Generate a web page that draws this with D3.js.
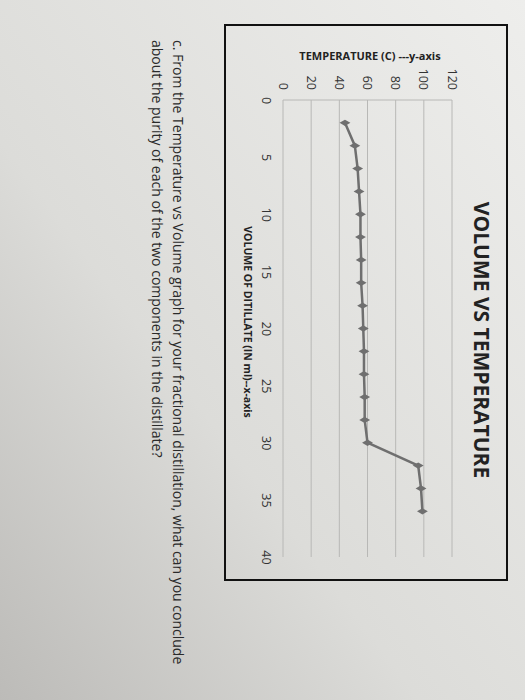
<!DOCTYPE html>
<html><head><meta charset="utf-8">
<script src="https://d3js.org/d3.v7.min.js"></script>
<style>body{margin:0;}svg{display:block;}</style>
</head><body>
<script>
const volumes = [2,4,6,8,10,12,14,16,18,20,22,24,26,28,30,32,34,36];
const temps = [44,51,53,54,55,55,55.5,55.5,56.5,57,57.5,57.5,58,58,60,96,98,99];
const tempTicks = [0,20,40,60,80,100,120];
const volTicks = [0,5,10,15,20,25,30,35,40];
const title = "VOLUME VS TEMPERATURE";
const yTitle = "TEMPERATURE (C) ---y-axis";
const xTitle = "VOLUME  OF DITILLATE (IN ml)--x-axis";
const question = ["c. From the Temperature vs Volume graph for your fractional distillation, what can you conclude",
                  "about the purity of each of the two components in the distillate?"];

const svg = d3.select("body").append("svg").attr("width",525).attr("height",700);
const defs = svg.append("defs");
const g1 = defs.append("linearGradient").attr("id","bg").attr("x1","1").attr("y1","0").attr("x2","0").attr("y2","1");
g1.append("stop").attr("offset","0").attr("stop-color","#eeeeec");
g1.append("stop").attr("offset","0.6").attr("stop-color","#dcdcd9");
g1.append("stop").attr("offset","1").attr("stop-color","#bcbbb8");
svg.append("rect").attr("width",525).attr("height",700).attr("fill","url(#bg)");

const font = "'Open Sans', sans-serif";
const g = svg.append("g").attr("transform","translate(507,25) rotate(90)");
g.append("rect").attr("x",0).attr("y",0).attr("width",555).attr("height",282)
  .attr("fill","none").attr("stroke","#111").attr("stroke-width",2);

const x = d3.scaleLinear().domain([0,40]).range([75,532]);
const y = d3.scaleLinear().domain([0,120]).range([224,55]);

g.selectAll(".grid").data(tempTicks).join("line")
  .attr("x1",x(0)).attr("x2",x(40)).attr("y1",d=>y(d)).attr("y2",d=>y(d))
  .attr("stroke","#b8b8b6").attr("stroke-width",1);
g.append("line").attr("x1",x(0)).attr("x2",x(0)).attr("y1",y(0)).attr("y2",y(120)).attr("stroke","#b8b8b6");

const ya = g.append("g").attr("transform",`translate(${x(0)},0)`)
  .call(d3.axisLeft(y).tickValues(tempTicks).tickSize(0).tickPadding(10));
ya.select(".domain").remove();
ya.selectAll("text").attr("font-family",font).attr("font-size",12.5).attr("fill","#333");
const xa = g.append("g").attr("transform",`translate(0,${y(0)})`)
  .call(d3.axisBottom(x).tickValues(volTicks).tickSize(0).tickPadding(12));
xa.select(".domain").remove();
xa.selectAll("text").attr("font-family",font).attr("font-size",12.5).attr("fill","#333");

g.append("text").attr("x",315).attr("y",33).attr("text-anchor","middle")
  .attr("font-family",font).attr("font-weight","bold").attr("font-size",21).attr("fill","#222").text(title);
g.append("text").attr("transform","translate(35,137) rotate(-90)").attr("text-anchor","middle")
  .attr("font-family",font).attr("font-weight","bold").attr("font-size",11).attr("fill","#222").text(yTitle);
g.append("text").attr("x",297).attr("y",263).attr("text-anchor","middle")
  .attr("font-family",font).attr("font-weight","bold").attr("font-size",10.5).attr("fill","#222").text(xTitle);

const pts = volumes.map((v,i)=>[v,temps[i]]);
g.append("path").datum(pts).attr("fill","none").attr("stroke","#6f6f6f").attr("stroke-width",2.5)
  .attr("d",d3.line().x(d=>x(d[0])).y(d=>y(d[1])));
g.selectAll(".pt").data(pts).join("path")
  .attr("transform",d=>`translate(${x(d[0])},${y(d[1])})`)
  .attr("d",d3.symbol(d3.symbolDiamond,34)).attr("fill","#6f6f6f");

g.selectAll(".q").data(question).join("text")
  .attr("x",15).attr("y",(d,i)=>334+i*21)
  .attr("font-family",font).attr("font-size",14).attr("fill","#2a2a2a").text(d=>d);
</script>
</body></html>
